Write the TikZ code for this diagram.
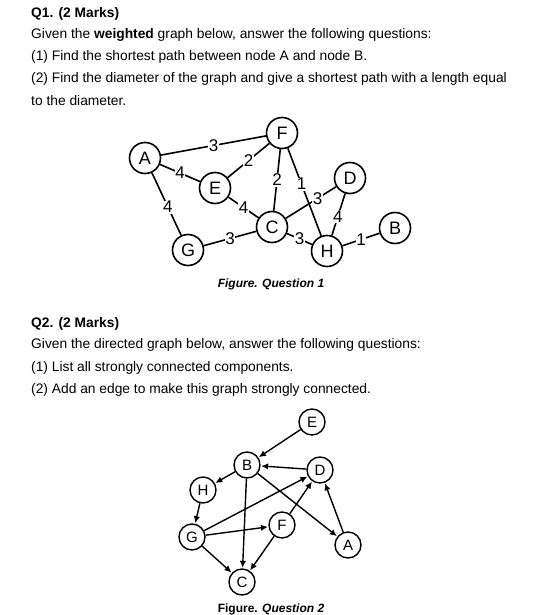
\documentclass[tikz,border=0pt]{standalone}
\usepackage{fontspec}
\setmainfont{Liberation Sans}
\usetikzlibrary{arrows.meta}

\begin{document}
\begin{tikzpicture}[
  x=1pt, y=-1pt,
  txt/.style={anchor=base west, inner sep=0pt, font=\fontsize{13.8}{17}\selectfont},
  figcap/.style={anchor=base, inner sep=0pt, font=\fontsize{12}{14}\selectfont\bfseries},
  vtx/.style={circle, draw, line width=1.6pt, minimum size=31pt, inner sep=0pt,
    font=\fontsize{18}{18}\selectfont},
  wt/.style={fill=white, inner sep=0.6pt, font=\fontsize{17}{17}\selectfont},
  link/.style={line width=1.6pt},
  dvtx/.style={circle, draw, line width=1.4pt, minimum size=26pt, inner sep=0pt,
    font=\fontsize{15}{15}\selectfont},
  arc/.style={-{Latex[length=7pt,width=6.5pt]}, line width=1.4pt, shorten >=0.5pt},
]
  \useasboundingbox (0,0) rectangle (554,615);

  % question 1
  \node[txt] (q1) at (31,17.5) {\textbf{Q1. (2 Marks)}};
  \node[txt] (q1a) at (31,38.5) {Given the \textbf{weighted} graph below, answer the following questions:};
  \node[txt] (q1b) at (31,61) {(1) Find the shortest path between node A and node B.};
  \node[txt] (q1c) at (31,83) {(2) Find the diameter of the graph and give a shortest path with a length equal};
  \node[txt] (q1d) at (31,105.5) {to the diameter.};

  \node[vtx] (A) at (145,158) {A};
  \node[vtx] (F) at (282,133) {F};
  \node[vtx] (E) at (215,188) {E};
  \node[vtx] (D) at (350,178) {D};
  \node[vtx] (C) at (272,227) {C};
  \node[vtx] (G) at (188,250) {G};
  \node[vtx] (H) at (327,251) {H};
  \node[vtx] (B) at (395,228) {B};

  \draw[link] (A) -- node[wt] {3} (F);
  \draw[link] (A) -- node[wt] {4} (E);
  \draw[link] (A) -- node[wt, pos=.55] {4} (G);
  \draw[link] (E) -- node[wt] {2} (F);
  \draw[link] (E) -- node[wt] {4} (C);
  \draw[link] (F) -- node[wt] {2} (C);
  \draw[link] (F) -- node[wt, pos=.41] {1} (H);
  \draw[link] (C) -- node[wt, pos=.63] {3} (D);
  \draw[link] (D) -- node[wt, pos=.55] {4} (H);
  \draw[link] (G) -- node[wt] {3} (C);
  \draw[link] (C) -- node[wt] {3} (H);
  \draw[link] (H) -- node[wt] {1} (B);

  \node[figcap] (cap1) at (271,287) {\itshape Figure. Question 1};

  % question 2
  \node[txt] (q2) at (31,327.5) {\textbf{Q2. (2 Marks)}};
  \node[txt] (q2a) at (31,348.5) {Given the directed graph below, answer the following questions:};
  \node[txt] (q2b) at (31,371.5) {(1) List all strongly connected components.};
  \node[txt] (q2c) at (31,393.5) {(2) Add an edge to make this graph strongly connected.};

  \node[dvtx] (e2) at (312,422) {E};
  \node[dvtx] (b2) at (247,465) {B};
  \node[dvtx] (d2) at (320,470) {D};
  \node[dvtx] (h2) at (203,490) {H};
  \node[dvtx] (g2) at (192,537) {G};
  \node[dvtx] (f2) at (282,525) {F};
  \node[dvtx] (a2) at (348,545) {A};
  \node[dvtx] (c2) at (242,582) {C};

  \draw[arc] (e2) -- (b2);
  \draw[arc] (d2) -- (b2);
  \draw[arc] (b2) -- (h2);
  \draw[arc] (b2) -- (c2);
  \draw[arc] (b2) -- (a2);
  \draw[arc] (h2) -- (g2);
  \draw[arc] (g2) -- (d2);
  \draw[arc] (g2) -- (f2);
  \draw[arc] (g2) -- (c2);
  \draw[arc] (f2) -- (d2);
  \draw[arc] (f2) -- (c2);
  \draw[arc] (a2) -- (d2);

  \node[figcap] (cap2) at (271,612) {Figure. \itshape Question 2};
\end{tikzpicture}
\end{document}
